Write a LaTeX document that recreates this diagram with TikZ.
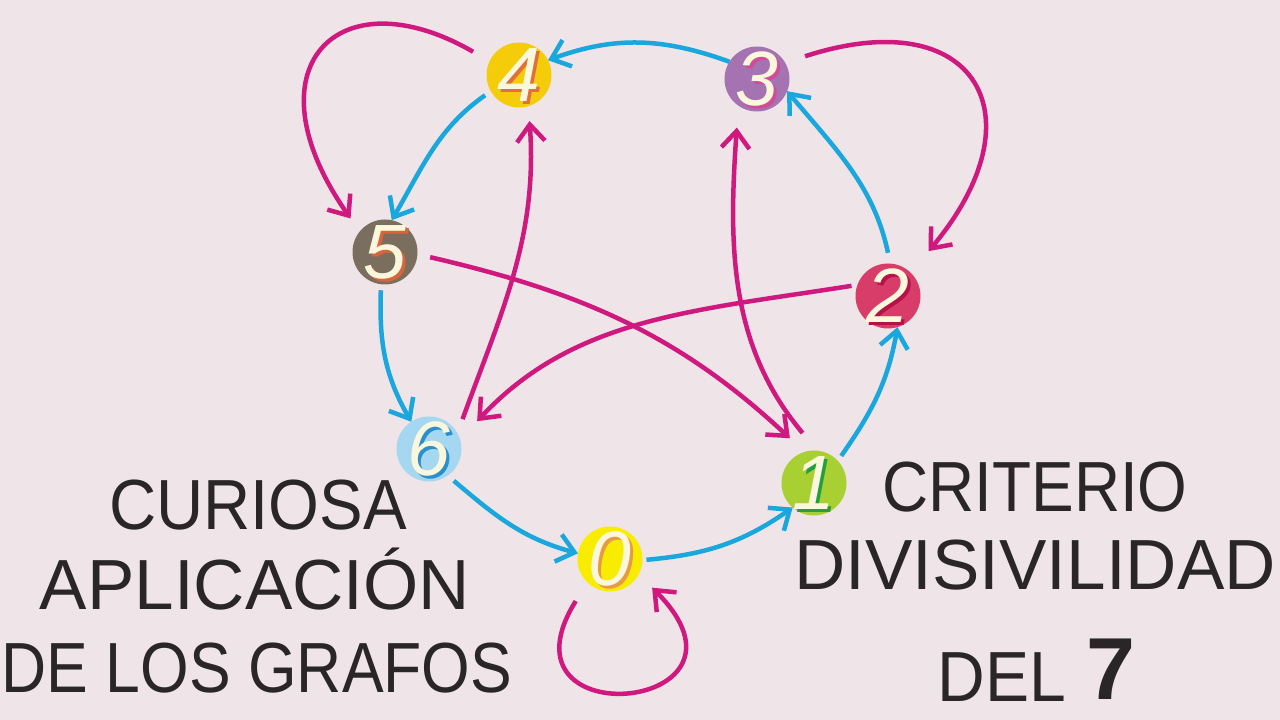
\documentclass[tikz,border=0pt]{standalone}
\usepackage{fontspec}
\setmainfont{Liberation Sans}
\usetikzlibrary{arrows.meta}
\definecolor{bg}{HTML}{EFE5E8}
\definecolor{ink}{HTML}{2A2526}
\definecolor{cyanE}{HTML}{1AA7DD}
\definecolor{pinkE}{HTML}{D0197F}
\definecolor{dcream}{HTML}{FBF7DC}
\definecolor{cFour}{HTML}{F5CC0A}
\definecolor{cThree}{HTML}{A573B2}
\definecolor{cFive}{HTML}{7A6E5F}
\definecolor{cTwo}{HTML}{D83C68}
\definecolor{cSix}{HTML}{A6D7F0}
\definecolor{cOne}{HTML}{A8D032}
\definecolor{cZero}{HTML}{F8EC00}
\definecolor{sFour}{HTML}{E0703A}
\definecolor{sThree}{HTML}{D04C9A}
\definecolor{sFive}{HTML}{D8643A}
\definecolor{sTwo}{HTML}{B8104A}
\definecolor{sSix}{HTML}{2A8FCC}
\definecolor{sOne}{HTML}{20A040}
\definecolor{sZero}{HTML}{E89A40}
\newcommand\dgt[2]{\makebox[0pt]{\smash{\raisebox{-3pt}{\hspace{6pt}\textcolor{#1}{#2}}}}\makebox[0pt]{\textcolor{dcream}{#2}}}
\tikzset{
  vtx/.style={circle, minimum size=65pt, inner sep=0pt, outer sep=0pt,
    font=\fontsize{77}{77}\selectfont\itshape},
  tip/.style={-{Straight Barb[length=17pt,width=28pt]}},
  blu/.style={draw=cyanE, line width=4.5pt, tip},
  pnk/.style={draw=pinkE, line width=4.5pt, tip},
  ttl/.style={anchor=base, text=ink, inner sep=0pt, font=\fontsize{71}{71}\selectfont}
}
\begin{document}
\begin{tikzpicture}[x=1pt,y=1pt]
\fill[bg] (0,0) rectangle (1280,720);
\useasboundingbox (0,0) rectangle (1280,720);

% vertices
\node[vtx, fill=cFour]  (n4) at (519,645) {\dgt{sFour}{4}};
\node[vtx, fill=cThree] (n3) at (757,641) {\dgt{sThree}{3}};
\node[vtx, fill=cFive]  (n5) at (385,468) {\dgt{sFive}{5}};
\node[vtx, fill=cTwo]   (n2) at (888,424) {\dgt{sTwo}{2}};
\node[vtx, fill=cSix]   (n6) at (429,271) {\dgt{sSix}{6}};
\node[vtx, fill=cOne]   (n1) at (814,237) {\dgt{sOne}{1}};
\node[vtx, fill=cZero]  (n0) at (610,161) {\dgt{sZero}{0}};

% blue edges: n -> n+1
\draw[blu] (n3.148) to[out=160,in=20] (n4.27);
\draw[blu, shorten <=7pt] (n4.-150) to[out=215,in=60] (n5.78);
\draw[blu, shorten <=6pt] (n5.-97) to[out=268,in=120] (n6.123);
\draw[blu, shorten <=8pt] (n6.-55) to[out=320,in=165] (n0.170);
\draw[blu, shorten <=4pt] (n0.-2) to[out=5,in=215] (n1.-131);
\draw[blu, shorten <=6pt] (n1.43) to[out=55,in=260] (n2.-73);
\draw[blu, shorten <=11pt] (n2.86) to[out=102,in=310] (n3.-22);

% pink edges: n -> 3n mod 7
\draw[pnk, shorten <=15pt, shorten >=15pt] (n6.29) to[out=70,in=274] (n4.-73);
\draw[pnk, shorten <=23pt, shorten >=22pt] (n1.84) to[out=130,in=266] (n3.-125);
\draw[pnk, shorten <=13pt, shorten >=20pt] (n5.-4) to[out=-13,in=137] (n1.107);
\draw[pnk, shorten <=6pt, shorten >=25pt] (n2.160) to[out=189,in=47] (n6.17);
\draw[pnk, shorten <=19pt, shorten >=16pt] (n4.155) .. controls +(150:175) and +(125:200) .. (n5.141);
\draw[pnk, shorten <=21pt, shorten >=28pt] (n3.30) .. controls +(18:200) and +(50:205) .. (n2.46);
\draw[pnk, shorten <=22pt, shorten >=19pt] (n0.-134) .. controls +(238:185) and +(315:195) .. (n0.-28);

% titles
\node[ttl] (t1) at (258,190) {\scalebox{0.92}[1]{CURIOSA}};
\node[ttl] (t2) at (255,110) {APLICACIÓN};
\node[ttl] (t3) at (257,27) {\scalebox{0.88}[1]{DE LOS GRAFOS}};
\node[ttl] (t4) at (1035,208) {\scalebox{0.90}[1]{CRITERIO}};
\node[ttl] (t5) at (1035,130) {DIVISIVILIDAD};
\node[ttl] (t6) at (1002,18) {\scalebox{0.93}[1]{DEL}};
\node[ttl, font=\fontsize{88}{88}\selectfont\bfseries] (t7) at (1111,20) {7};
\end{tikzpicture}
\end{document}
